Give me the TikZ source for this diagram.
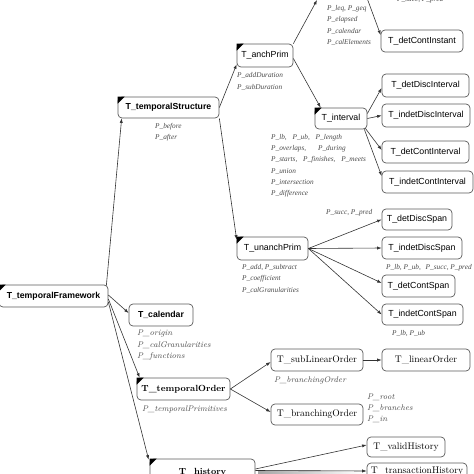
\documentclass[tikz,border=0pt]{standalone}
\usepackage{fontspec}
\newfontfamily\sansf{Liberation Sans}
\newfontfamily\timesf{Liberation Serif}
\usetikzlibrary{arrows.meta,calc}
\definecolor{boxc}{HTML}{5A5A5A}
\definecolor{linec}{HTML}{333333}
\definecolor{labc}{HTML}{4A4A4A}
\tikzset{
 bx/.style={draw=boxc, rounded corners=4pt, line width=0.7pt, inner sep=0pt, fill=white},
 sansb/.style={bx, font=\sansf\bfseries\fontsize{8.7}{10}\selectfont},
 sansr/.style={bx, font=\sansf\fontsize{8.8}{10}\selectfont},
 serb/.style={bx, font=\bfseries\fontsize{8.9}{10}\selectfont},
 serr/.style={bx, font=\fontsize{9.6}{11}\selectfont},
 labt/.style={anchor=west, inner sep=0pt, text=labc, font=\timesf\itshape\fontsize{7.3}{8}\selectfont},
 labl/.style={anchor=west, inner sep=0pt, text=labc, font=\itshape\fontsize{8.2}{9}\selectfont},
 arr/.style={draw=linec, line width=0.6pt, -{Latex[length=4.5pt,width=3.2pt]}},
 tri/.style={fill=black},
}
\begin{document}
\begin{tikzpicture}[x=1pt,y=-1pt]
\useasboundingbox (0,0) rectangle (474,474);
\clip (0,0) rectangle (474,474);

% nodes
\node[sansb, minimum width=109pt, minimum height=22pt] (tf) at (53.5,296) {T\_temporalFramework};
\node[sansb, minimum width=101pt, minimum height=21pt] (ts) at (168.5,107.5) {T\_temporalStructure};
\node[sansr, minimum width=56pt, minimum height=23pt] (ap) at (265,55.5) {T\_anchPrim};
\node[sansr, minimum width=82pt, minimum height=22pt] (dci) at (422,41) {T\_detContInstant};
\node[sansr, minimum width=52pt, minimum height=21pt] (iv) at (341,118.5) {T\_interval};
\node[sansr, minimum width=87pt, minimum height=23pt] (ddi) at (425.5,85.5) {T\_detDiscInterval};
\node[sansr, minimum width=88pt, minimum height=23pt] (idi) at (426,115.5) {T\_indetDiscInterval};
\node[sansr, minimum width=87pt, minimum height=22pt] (dcoi) at (425.5,152) {T\_detContInterval};
\node[sansr, minimum width=91pt, minimum height=22pt] (icoi) at (427.5,182) {T\_indetContInterval};
\node[sansr, minimum width=71pt, minimum height=23pt] (up) at (272.5,248.5) {T\_unanchPrim};
\node[sansr, minimum width=70pt, minimum height=21pt] (dds) at (417,219.5) {T\_detDiscSpan};
\node[sansr, minimum width=80pt, minimum height=22pt] (ids) at (422,248) {T\_indetDiscSpan};
\node[sansr, minimum width=73pt, minimum height=22pt] (dcs) at (418.5,286) {T\_detContSpan};
\node[sansr, minimum width=81pt, minimum height=21pt] (ics) at (422.5,314.5) {T\_indetContSpan};
\node[sansb, minimum width=64pt, minimum height=22pt] (cal) at (161,315) {T\_calendar};
\node[serb, minimum width=93pt, minimum height=22pt] (to) at (183.5,389) {T\_temporalOrder};
\node[serr, minimum width=92pt, minimum height=22pt] (slo) at (317,360) {T\_subLinearOrder};
\node[serr, minimum width=88pt, minimum height=22pt] (lo) at (426,360) {T\_linearOrder};
\node[serr, minimum width=92pt, minimum height=21pt] (bo) at (317,414.5) {T\_branchingOrder};
\node[serb, minimum width=105pt, minimum height=27pt] (hist) at (202.5,472.5) {T\_history};
\node[serr, minimum width=78pt, minimum height=20pt] (vh) at (406,447) {T\_validHistory};
\node[serr, minimum width=100pt, minimum height=17pt] (th) at (417,471.5) {T\_transactionHistory};

\coordinate (topa) at (317,0);
\coordinate (topb) at (367,-2);

% labels
\node[labt] (l1) at (155,127) {P\_before};
\node[labt] (l2) at (155,138) {P\_after};
\node[labt] (l3) at (237,75) {P\_addDuration};
\node[labt] (l4) at (237,87) {P\_subDuration};
\node[labt] (l5) at (327,9) {P\_leq, P\_geq};
\node[labt] (l6) at (327,20) {P\_elapsed};
\node[labt] (l7) at (327,31) {P\_calendar};
\node[labt] (l8) at (327,42) {P\_calElements};
\node[labt] (l9) at (397,0) {P\_succ, P\_pred};
\node[labt] (l10) at (271,138) {P\_lb,\hspace{4pt} P\_ub,\hspace{4pt} P\_length};
\node[labt] (l11) at (271,149) {P\_overlaps,\hspace{10pt} P\_during};
\node[labt] (l12) at (271,160) {P\_starts,\hspace{4pt} P\_finishes,\hspace{4pt} P\_meets};
\node[labt] (l13) at (271,172) {P\_union};
\node[labt] (l14) at (271,183) {P\_intersection};
\node[labt] (l15) at (271,194) {P\_difference};
\node[labt] (l16) at (242,268) {P\_add, P\_subtract};
\node[labt] (l17) at (242,279) {P\_coefficient};
\node[labt] (l18) at (242,290) {P\_calGranularities};
\node[labt] (l19) at (326,213) {P\_succ, P\_pred};
\node[labt] (l20) at (386,268) {P\_lb, P\_ub,\hspace{3pt} P\_succ, P\_pred};
\node[labt] (l21) at (392,334) {P\_lb, P\_ub};
\node[labl] (l22) at (137,334) {P\_origin};
\node[labl] (l23) at (137,345) {P\_calGranularities};
\node[labl] (l24) at (137,356) {P\_functions};
\node[labl] (l25) at (142,409) {P\_temporalPrimitives};
\node[labl] (l26) at (274,380) {P\_branchingOrder};
\node[labl] (l27) at (367,397) {P\_root};
\node[labl] (l28) at (367,408) {P\_branches};
\node[labl] (l29) at (367,419) {P\_in};

% connectors
\draw[arr] ($(tf.north east)+(-2,1)$) -- ($(ts.south west)+(4,0)$);
\draw[arr] ($(tf.east)+(0,-1)$) -- ($(cal.west)+(0,-2)$);
\draw[arr] ($(tf.east)+(0,3)$) -- ($(to.north west)+(3,0)$);
\draw[arr] ($(tf.east)+(0,6)$) -- ($(hist.north west)+(-1,1)$);
\draw[arr] (ts.east) -- ($(ap.south west)+(0,-3)$);
\draw[arr] (ts.south east) -- ($(up.north west)+(0,3)$);
\draw[arr] (ap.north east) -- (topa);
\draw[arr] (topb) -- ($(dci.west)+(0,-6)$);
\draw[arr] ($(ap.east)+(0,3)$) -- ($(iv.north west)+(6,0)$);
\draw[arr] ($(iv.east)+(0,-5)$) -- ($(ddi.west)+(0,2.5)$);
\draw[arr] (iv.east) -- (idi.west);
\draw[arr] ($(iv.south east)+(-2,-1)$) -- ($(dcoi.west)+(0,-2)$);
\draw[arr] ($(iv.south east)+(-3,0)$) -- ($(icoi.west)+(0,-6)$);
\draw[arr] (up.east) -- (dds.west);
\draw[arr] (up.east) -- (ids.west);
\draw[arr] (up.east) -- ($(dcs.west)+(0,-3)$);
\draw[arr] (up.east) -- (ics.west);
\draw[arr] (to.east) -- ($(slo.west)+(0,2)$);
\draw[arr] (to.east) -- ($(bo.west)+(0,-2.5)$);
\draw[arr] (slo.east) -- (lo.west);
\shade[left color=gray!70, right color=white] (258,470.5) rectangle (362,474);
\draw[arr] ($(hist.east)+(0,-3.5)$) -- ($(vh.west)+(0,-2)$);
\draw[arr] ($(hist.east)+(0,-2)$) -- ($(th.west)+(0,-0.5)$);

% abstract-type corner marks
\foreach \n in {tf,ts,ap,iv,up,to,hist}
  \fill[tri] (\n.north west) -- ++(7,0) -- ++(-7,7) -- cycle;
\end{tikzpicture}
\end{document}
